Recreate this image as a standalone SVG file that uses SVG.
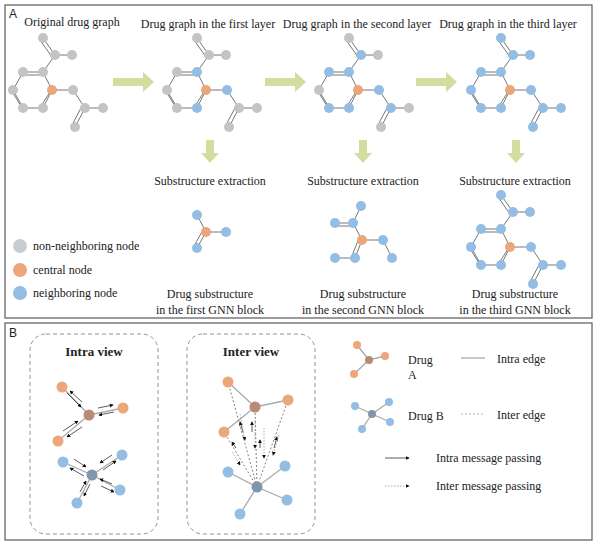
<svg xmlns="http://www.w3.org/2000/svg" xmlns:xlink="http://www.w3.org/1999/xlink" width="600" height="547" viewBox="0 0 600 547">
<style>
text{font-family:"Liberation Serif","Times New Roman","DejaVu Serif",serif;font-size:12px;fill:#222}
.c{text-anchor:middle}
.b{stroke:#777;stroke-width:1;fill:none}
.g{fill:#c4c4c4}.o{fill:#eda57c}.u{fill:#94bde3}
.bx{fill:#fff;stroke:#666;stroke-width:1.3}
.dv{fill:none;stroke:#8a93a8;stroke-dasharray:4 3}
.ar{fill:#d4dca0}
.e{stroke:#aaa;stroke-width:1.3;fill:none}
.d{stroke:#777;stroke-width:0.9;stroke-dasharray:2 2;fill:none}
.m{stroke:#333;stroke-width:0.8;marker-end:url(#ah);fill:none}
.mi{stroke:#999;stroke-width:0.8;stroke-dasharray:1.5 1.5;marker-end:url(#ah);fill:none}
</style>
<defs>
<marker id="ah" viewBox="0 0 6 6" refX="5" refY="3" markerWidth="5" markerHeight="5" orient="auto"><path d="M0,0L6,3L0,6z" fill="#111"/></marker>
<g id="bonds" class="b">
<path d="M23,72H43M23,75H43"/>
<path d="M43,72L52,90M52,90L43,108M50,92L41,106"/>
<path d="M43,108H23M23,108L13,90M21,106L11,90M13,90L23,72"/>
<path d="M43,72L55,55L72,55M55,55L43,38M52,57L40,40"/>
<path d="M52,90H73L85,108H103M85,108L75,127M82,106L72,125"/>
</g>
</defs>
<rect class="bx" x="5" y="5" width="587" height="313"/>
<rect class="bx" x="5" y="323" width="587" height="217"/>
<text x="9" y="18" style="font-family:'Liberation Sans',sans-serif">A</text>
<text x="9" y="337" style="font-family:'Liberation Sans',sans-serif">B</text>
<g id="titles">
<text class="c" x="72" y="26">Original drug graph</text>
<text class="c" x="208" y="28">Drug graph in the first layer</text>
<text class="c" x="357" y="28">Drug graph in the second layer</text>
<text class="c" x="508" y="28">Drug graph in the third layer</text>
<text class="c" x="210" y="185">Substructure extraction</text>
<text class="c" x="363" y="185">Substructure extraction</text>
<text class="c" x="515" y="185">Substructure extraction</text>
<text class="c" x="210" y="298">Drug substructure</text>
<text class="c" x="210" y="314">in the first GNN block</text>
<text class="c" x="363" y="298">Drug substructure</text>
<text class="c" x="363" y="314">in the second GNN block</text>
<text class="c" x="515" y="298">Drug substructure</text>
<text class="c" x="515" y="314">in the third GNN block</text>
</g>
<g id="arrows">
<path class="ar" d="M113,78H143V72L154,82L143,92V86H113z"/>
<path class="ar" d="M265,78H295V72L306,82L295,92V86H265z"/>
<path class="ar" d="M416,78H446V72L457,82L446,92V86H416z"/>
<path class="ar" d="M206,140H214V153H219L210,163L201,153H206z"/>
<path class="ar" d="M359,140H367V153H372L363,163L354,153H359z"/>
<path class="ar" d="M512,140H520V153H525L516,163L507,153H512z"/>
</g>
<g id="graph0">
<use href="#bonds"/>
<g class="g"><circle cx="43" cy="38" r="5"/><circle cx="55" cy="55" r="5"/><circle cx="72" cy="55" r="5"/><circle cx="23" cy="72" r="5"/><circle cx="43" cy="72" r="5"/><circle cx="13" cy="90" r="5"/><circle cx="23" cy="108" r="5"/><circle cx="43" cy="108" r="5"/><circle cx="73" cy="90" r="5"/><circle cx="85" cy="108" r="5"/><circle cx="103" cy="108" r="5"/><circle cx="75" cy="127" r="5"/></g>
<circle class="o" cx="52" cy="90" r="5"/>
</g>
<g id="graph1" transform="translate(154,0)">
<use href="#bonds"/>
<g class="g"><circle cx="43" cy="38" r="5"/><circle cx="55" cy="55" r="5"/><circle cx="72" cy="55" r="5"/><circle cx="23" cy="72" r="5"/><circle cx="13" cy="90" r="5"/><circle cx="23" cy="108" r="5"/><circle cx="85" cy="108" r="5"/><circle cx="103" cy="108" r="5"/><circle cx="75" cy="127" r="5"/></g>
<g class="u"><circle cx="43" cy="72" r="5"/><circle cx="43" cy="108" r="5"/><circle cx="73" cy="90" r="5"/></g>
<circle class="o" cx="52" cy="90" r="5"/>
</g>
<g id="graph2" transform="translate(306,0)">
<use href="#bonds"/>
<g class="g"><circle cx="43" cy="38" r="5"/><circle cx="72" cy="55" r="5"/><circle cx="13" cy="90" r="5"/><circle cx="103" cy="108" r="5"/><circle cx="75" cy="127" r="5"/></g>
<g class="u"><circle cx="55" cy="55" r="5"/><circle cx="23" cy="72" r="5"/><circle cx="43" cy="72" r="5"/><circle cx="23" cy="108" r="5"/><circle cx="43" cy="108" r="5"/><circle cx="73" cy="90" r="5"/><circle cx="85" cy="108" r="5"/></g>
<circle class="o" cx="52" cy="90" r="5"/>
</g>
<g id="graph3" transform="translate(458,0)">
<use href="#bonds"/>
<g class="u"><circle cx="43" cy="38" r="5"/><circle cx="55" cy="55" r="5"/><circle cx="72" cy="55" r="5"/><circle cx="23" cy="72" r="5"/><circle cx="43" cy="72" r="5"/><circle cx="13" cy="90" r="5"/><circle cx="23" cy="108" r="5"/><circle cx="43" cy="108" r="5"/><circle cx="73" cy="90" r="5"/><circle cx="85" cy="108" r="5"/><circle cx="103" cy="108" r="5"/><circle cx="75" cy="127" r="5"/></g>
<circle class="o" cx="52" cy="90" r="5"/>
</g>
<g id="sub1">
<path class="b" d="M206,232L197,215M206,232H226M206,232L197,248M203,230L194,246"/>
<g class="u"><circle cx="197" cy="215" r="5"/><circle cx="226" cy="232" r="5"/><circle cx="197" cy="248" r="5"/></g>
<circle class="o" cx="206" cy="232" r="5"/>
</g>
<g id="sub2">
<path class="b" d="M362,240L353,223L361,206M353,223H335M353,226H335M362,240H383L392,258M362,240L355,258M359,238L352,256M355,258H335"/>
<g class="u"><circle cx="361" cy="206" r="5"/><circle cx="335" cy="223" r="5"/><circle cx="353" cy="223" r="5"/><circle cx="383" cy="240" r="5"/><circle cx="392" cy="258" r="5"/><circle cx="355" cy="258" r="5"/><circle cx="335" cy="258" r="5"/></g>
<circle class="o" cx="362" cy="240" r="5"/>
</g>
<g id="sub3" transform="translate(458,157)">
<use href="#bonds"/>
<g class="u"><circle cx="43" cy="38" r="5"/><circle cx="55" cy="55" r="5"/><circle cx="72" cy="55" r="5"/><circle cx="23" cy="72" r="5"/><circle cx="43" cy="72" r="5"/><circle cx="13" cy="90" r="5"/><circle cx="23" cy="108" r="5"/><circle cx="43" cy="108" r="5"/><circle cx="73" cy="90" r="5"/><circle cx="85" cy="108" r="5"/><circle cx="103" cy="108" r="5"/><circle cx="75" cy="127" r="5"/></g>
<circle class="o" cx="52" cy="90" r="5"/>
</g>
<g id="legendA">
<circle cx="20" cy="246" r="7" fill="#c8cdd4"/><text x="33" y="250">non-neighboring node</text>
<circle cx="20" cy="270" r="7" fill="#eda57c"/><text x="33" y="274">central node</text>
<circle cx="20" cy="293" r="7" fill="#94bde3"/><text x="33" y="297">neighboring node</text>
</g>
<rect class="dv" x="30" y="334" width="128" height="200" rx="16"/>
<rect class="dv" x="187" y="334" width="128" height="200" rx="16"/>
<text class="c" x="94" y="356" style="font-weight:bold;font-size:13px">Intra view</text>
<text class="c" x="251" y="356" style="font-weight:bold;font-size:13px">Inter view</text>
<g id="intra">
<g class="e"><path d="M62,387L89,415M123,408L89,415M58,441L89,415M63,462L92,475M122,455L92,475M120,490L92,475M77,503L92,475"/></g>
<g>
<path class="m" d="M67,393L81,407"/><path class="m" d="M82,402L70,391"/>
<path class="m" d="M98,408L113,405"/><path class="m" d="M114,412L99,415"/>
<path class="m" d="M63,431L78,421"/><path class="m" d="M82,427L67,437"/>
<path class="m" d="M74,459L86,467"/><path class="m" d="M84,476L70,468"/>
<path class="m" d="M112,455L100,463"/><path class="m" d="M103,470L116,461"/>
<path class="m" d="M112,484L100,479"/><path class="m" d="M101,486L114,492"/>
<path class="m" d="M80,492L86,481"/><path class="m" d="M90,484L84,496"/>
</g>
<g class="o"><circle cx="62" cy="387" r="5.5"/><circle cx="123" cy="408" r="5.5"/><circle cx="58" cy="441" r="5.5"/></g>
<circle cx="89" cy="415" r="5.5" fill="#b98a76"/>
<g class="u"><circle cx="63" cy="462" r="5.5"/><circle cx="122" cy="455" r="5.5"/><circle cx="120" cy="490" r="5.5"/><circle cx="77" cy="503" r="5.5"/></g>
<circle cx="92" cy="475" r="5.5" fill="#7f96ad"/>
</g>
<g id="inter">
<g class="e"><path d="M228,382L255,407M288,400L255,407M224,432L255,407M228,472L257,487M285,466L257,487M287,500L257,487M240,514L257,487"/></g>
<g class="d"><path d="M257,487L228,382M257,487L255,407M257,487L288,400M257,487L224,432"/></g>
<g>
<path class="m" d="M243,432L240,422"/><path class="mi" d="M240,414L245,440"/>
<path class="m" d="M252,432L252,422"/><path class="mi" d="M255,420L255,448"/>
<path class="m" d="M260,448L260,440"/><path class="mi" d="M264,428L264,458"/>
<path class="m" d="M274,448L277,437"/><path class="mi" d="M279,435L273,455"/>
<path class="m" d="M236,448L232,442"/><path class="mi" d="M232,452L240,465"/>
</g>
<g class="o"><circle cx="228" cy="382" r="5.5"/><circle cx="288" cy="400" r="5.5"/><circle cx="224" cy="432" r="5.5"/></g>
<circle cx="255" cy="407" r="5.5" fill="#b98a76"/>
<g class="u"><circle cx="228" cy="472" r="5.5"/><circle cx="285" cy="466" r="5.5"/><circle cx="287" cy="500" r="5.5"/><circle cx="240" cy="514" r="5.5"/></g>
<circle cx="257" cy="487" r="5.5" fill="#7f96ad"/>
</g>
<g id="legendB">
<g class="e"><path d="M357,345L369,360L385,356M369,360L354,374M372,414L355,406M372,414L389,402M372,414L390,422M372,414L362,429"/></g>
<g class="o"><circle cx="357" cy="345" r="4"/><circle cx="385" cy="356" r="4"/><circle cx="354" cy="374" r="4"/></g>
<circle cx="369" cy="360" r="4" fill="#b98a76"/>
<g class="u"><circle cx="355" cy="406" r="4"/><circle cx="389" cy="402" r="4"/><circle cx="390" cy="422" r="4"/><circle cx="362" cy="429" r="4"/></g>
<circle cx="372" cy="414" r="4" fill="#7f96ad"/>
<text x="408" y="364">Drug</text><text x="408" y="379">A</text>
<text x="408" y="420">Drug B</text>
<path class="e" d="M461,358H485"/><text x="497" y="363">Intra edge</text>
<path class="d" d="M461,414H485" style="stroke:#aaa"/><text x="497" y="419">Inter edge</text>
<path class="m" d="M385,458H409"/><text x="436" y="462">Intra message passing</text>
<path class="mi" d="M385,486H409"/><text x="436" y="490">Inter message passing</text>
</g>
</svg>
